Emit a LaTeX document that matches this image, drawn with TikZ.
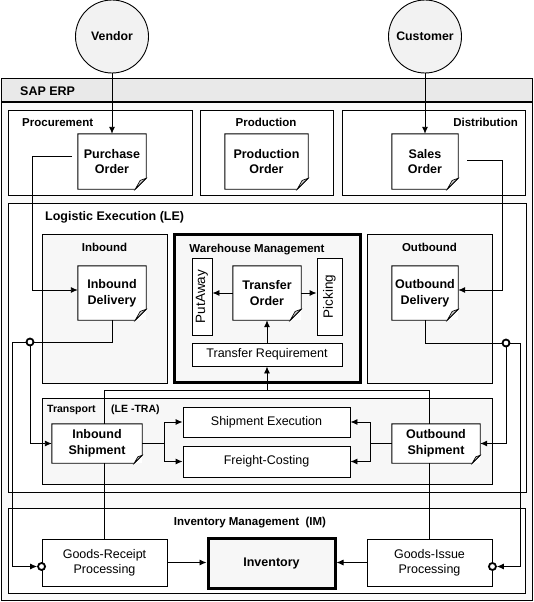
\documentclass[tikz,border=0pt]{standalone}
\usepackage{fontspec}
\setmainfont{Liberation Sans}
\usetikzlibrary{arrows.meta}

\begin{document}
\begin{tikzpicture}[x=1pt,y=-1pt]

			\tikzstyle{every node}=[font=\fontsize{12.5}{15}\selectfont]
			\tikzstyle{region}=[draw, line width=0.9pt, fill=gray!6]
			\tikzstyle{lbl}=[font=\bfseries\fontsize{11.5}{14}\selectfont, inner sep=0pt, text height=8.3pt, text depth=0pt]
			\tikzstyle{docnode}=[fill=white, align=center, inner sep=0pt, minimum height=54pt, font=\bfseries\fontsize{12.5}{15.8}\selectfont]
			\tikzstyle{plainbox}=[draw, line width=0.9pt, fill=white, align=center, inner sep=0pt]
			\tikzstyle{actor}=[circle, draw, line width=0.9pt, fill=gray!10, minimum size=73pt, inner sep=0pt, font=\bfseries\fontsize{12.3}{14}\selectfont]
			\tikzstyle{arr}=[line width=0.9pt, -{Latex[length=7pt,width=6pt]}]
			\tikzstyle{link}=[line width=0.9pt]
			\tikzstyle{jdot}=[circle, draw, line width=1.8pt, fill=white, minimum size=7pt, inner sep=0pt]

			\useasboundingbox (0,0) rectangle (534,602);

			% SAP ERP frame
			\draw[line width=1.3pt, fill=gray!4] (1.5,78.5) rectangle (532.5,600.5);
			\draw[line width=1.3pt, fill=gray!17] (1.5,78.5) rectangle (532.5,102);
			\node[lbl, anchor=west, font=\bfseries\fontsize{12.5}{15}\selectfont, text height=9pt] (saplbl) at (20,91) {SAP ERP};

			% top row
			\draw[region, fill=white] (8,110) rectangle (192,195);
			\draw[region, fill=white] (200,110) rectangle (333,195);
			\draw[region, fill=white] (342,110) rectangle (525,195);
			\node[lbl, anchor=west] (proclbl) at (22,122) {Procurement};
			\node[lbl] (prodlbl) at (266,122) {Production};
			\node[lbl, anchor=east] (distlbl) at (518,122) {Distribution};

			% logistic execution
			\draw[region, fill=white] (8,203) rectangle (526,492);
			\node[lbl, anchor=west, font=\bfseries\fontsize{12.5}{15}\selectfont, text height=9pt] (lelbl) at (45,216) {Logistic Execution (LE)};
			\draw[region] (42,234) rectangle (167,383);
			\draw[region, line width=3pt] (174,234) rectangle (360,382);
			\draw[region] (367,234) rectangle (492,383);
			\draw[region] (42,398) rectangle (492,484);
			\node[lbl] (inblbl) at (104.5,247) {Inbound};
			\node[lbl] (wmlbl) at (257,248) {Warehouse Management};
			\node[lbl] (outblbl) at (429.5,247) {Outbound};
			\node[lbl, anchor=west, font=\bfseries\fontsize{10.5}{13}\selectfont, text height=7.6pt] (trlbl) at (47,409) {Transport};
			\node[lbl, anchor=west, font=\bfseries\fontsize{10.5}{13}\selectfont, text height=7.6pt] (tralbl) at (111,409) {(LE -TRA)};

			% inventory management
			\draw[region, fill=white] (8,508) rectangle (525,593);
			\node[lbl] (imlbl) at (250,521) {Inventory Management\ \ (IM)};

			% actors
			\node[actor] (vendor) at (112,36.5) {Vendor};
			\node[actor] (customer) at (425,36.5) {Customer};

			% documents
			\node[docnode, minimum width=68pt, minimum height=55pt] (po) at (112,161.5) {Purchase\\Order};
			\node[docnode, minimum width=83pt, minimum height=55pt] (prodord) at (266.5,161.5) {Production\\Order};
			\node[docnode, minimum width=66pt, minimum height=55pt] (so) at (425,161.5) {Sales\\Order};
			\node[docnode, minimum width=68pt] (ind) at (112,293) {Inbound\\Delivery};
			\node[docnode, minimum width=68pt] (tord) at (267,293) {Transfer\\Order};
			\node[docnode, minimum width=66pt] (outd) at (425,293) {Outbound\\Delivery};
			\node[docnode, minimum width=90pt, minimum height=39pt] (ins) at (97,443.5) {Inbound\\Shipment};
			\node[docnode, minimum width=88pt, minimum height=39pt] (outs) at (436,443.5) {Outbound\\Shipment};

			% warehouse boxes
			\node[plainbox, rotate=90, minimum width=77pt, minimum height=20pt, font=\fontsize{13.5}{15}\selectfont] (putaway) at (202,296.5) {PutAway};
			\node[plainbox, rotate=90, minimum width=77pt, minimum height=25pt, font=\fontsize{13.5}{15}\selectfont] (picking) at (329.5,296.5) {Picking};
			\node[plainbox, minimum width=150pt, minimum height=23pt] (treq) at (267,354.5) {Transfer Requirement};

			% transport boxes
			\node[plainbox, minimum width=167pt, minimum height=30pt] (se) at (266.5,422) {Shipment Execution};
			\node[plainbox, minimum width=167pt, minimum height=31pt] (fc) at (266.5,461.5) {Freight-Costing};

			% inventory boxes
			\node[plainbox, minimum width=125pt, minimum height=47pt] (gr) at (104.5,562.5) {Goods-Receipt\\Processing};
			\node[plainbox, line width=3pt, fill=gray!6, minimum width=127pt, minimum height=50pt, font=\bfseries\fontsize{12.5}{15}\selectfont] (inv) at (271.5,563) {Inventory};
			\node[plainbox, minimum width=125pt, minimum height=47pt] (gi) at (429.5,562.5) {Goods-Issue\\Processing};
			\node[jdot] (grdot) at ([yshift=-4pt]gr.west) {};
			\node[jdot] (gidot) at ([yshift=-4pt]gi.east) {};

			% connectors
			\coordinate (poout) at (72,156);
			\coordinate (soout) at (467,160);
			\draw[arr] (vendor) -- (po);
			\draw[arr] (customer) -- (so);
			\draw[arr] (poout) -- ++(-40,0) |- ([yshift=3pt]ind.west);
			\draw[arr] (soout) -- ++(35,0) |- ([yshift=3pt]outd.east);

			\draw[arr] (ind.south) -- ++(0,22) -- ++(-100,0) |- (grdot.west);
			\node[jdot] (jin) at (30,342) {};
			\draw[arr] (jin) |- (ins.west);
			\draw[arr] (outd.south) -- ++(0,23) -- ++(95,0) |- (gidot.east);
			\node[jdot] (jout) at (506,343) {};
			\draw[arr] (jout) |- (outs.east);

			\draw[arr] (tord.west) -- (tord.west -| putaway.south);
			\draw[arr] (tord.east) -- (tord.east -| picking.north);
			\draw[arr] (treq) -- (tord);

			\draw[link] (ins.north -| gr.north) -- ++(0,-33) coordinate (bus) -| (outs.north -| gi.north);
			\draw[arr] (bus -| treq.south) -- (treq.south);
			\draw[link] (ins.south -| gr.north) -- (gr.north);
			\draw[link] (outs.south -| gi.north) -- (gi.north);

			\draw[link] (ins.east) -- ++(22,0) coordinate (isplit);
			\draw[arr] (isplit) |- (se.west);
			\draw[arr] (isplit) |- (fc.west);
			\draw[link] (outs.west) -- ++(-21,0) coordinate (osplit);
			\draw[arr] (osplit) |- (se.east);
			\draw[arr] (osplit) |- (fc.east);

			\draw[arr] (gr.east) -- (gr.east -| inv.west);
			\draw[arr] (gi.west) -- (gi.west -| inv.east);

			% document outlines with folded corner
			\foreach \d/\s in {po/11,prodord/11,so/11,ind/11,tord/11,outd/11,ins/8,outs/8}{
				\draw[link] (\d.north west) -- (\d.north east) -- ([yshift=\s pt]\d.south east) -- ([xshift=-\s pt]\d.south east) -- (\d.south west) -- cycle;
				\filldraw[fill=gray!45, line width=0.6pt] ([xshift=-\s pt]\d.south east) -- ([yshift=\s pt]\d.south east) -- ([xshift=-0.55*\s pt,yshift=0.8*\s pt]\d.south east) -- cycle;
			}

\end{tikzpicture}
\end{document}
